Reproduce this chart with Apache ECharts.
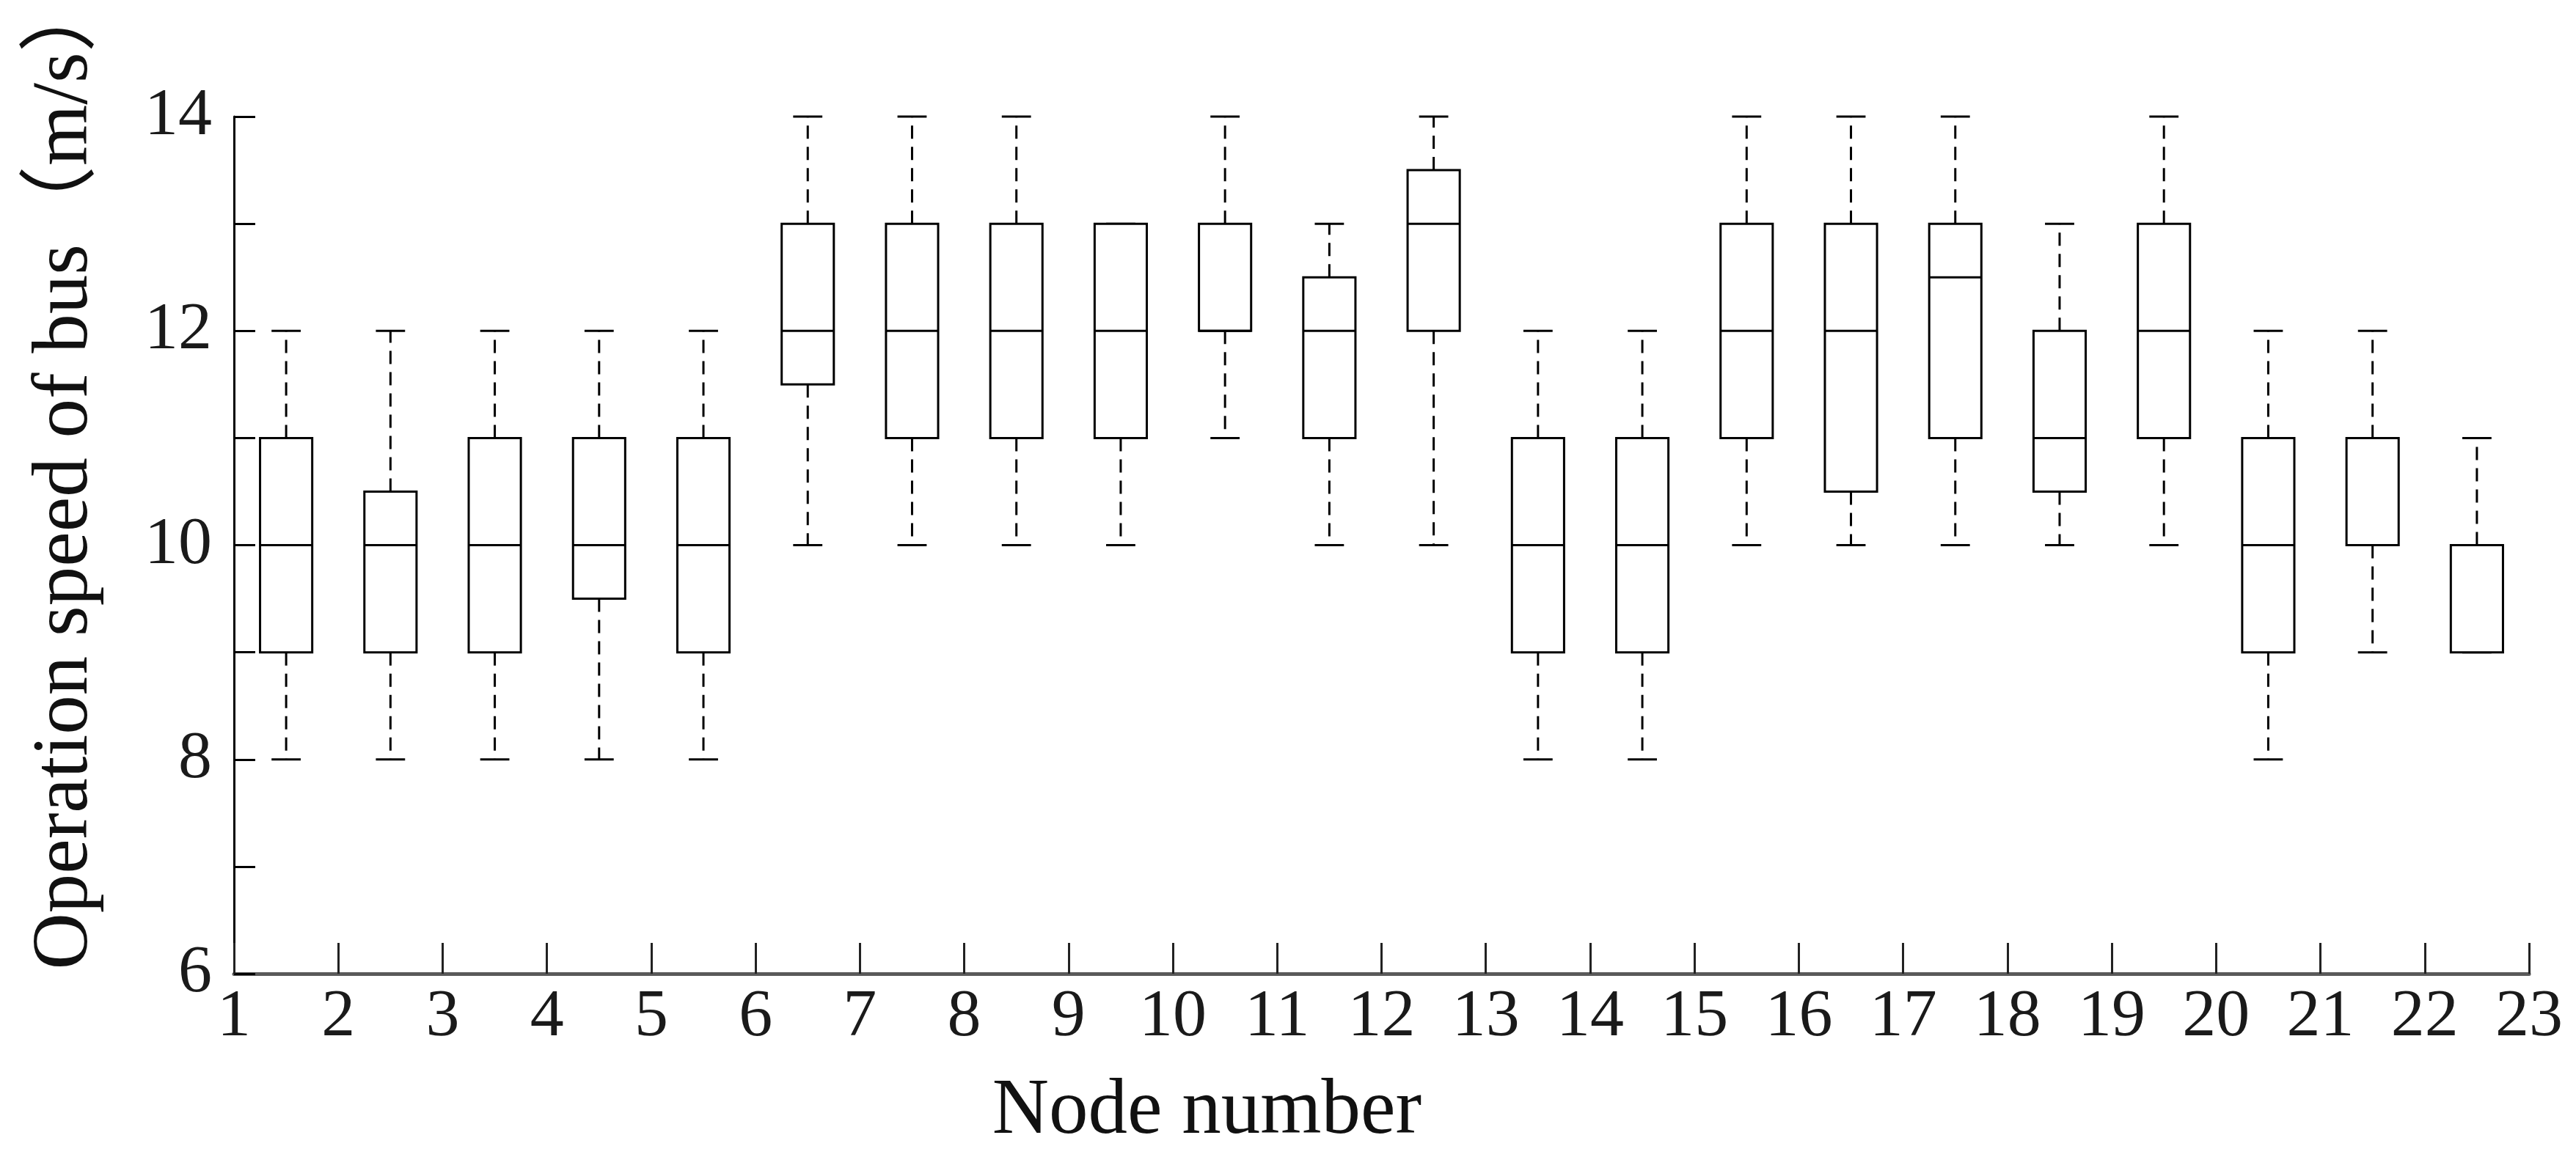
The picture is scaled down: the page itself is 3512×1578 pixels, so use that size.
<!DOCTYPE html>
<html>
<head>
<meta charset="utf-8">
<script src="https://cdn.jsdelivr.net/npm/echarts@6/dist/echarts.min.js"></script>
<style>
  html, body { margin: 0; padding: 0; background: #fff; }
  #chart { width: 3512px; height: 1578px; }
</style>
</head>
<body>
<div id="chart"></div>
<script>
// Node categories (boxes sit between integer ticks 1..23)
const nodes = ['1','2','3','4','5','6','7','8','9','10','11','12','13','14','15','16','17','18','19','20','21','22'];
// Box statistics (m/s)
const lowerWhisker = [8, 8, 8, 8, 8, 10, 10, 10, 10, 11, 10, 10, 8, 8, 10, 10, 10, 10, 10, 8, 9, 9];
const q1Values     = [9, 9, 9, 9.5, 9, 11.5, 11, 11, 11, 12, 11, 12, 9, 9, 11, 10.5, 11, 10.5, 11, 9, 10, 9];
const medianValues = [10, 10, 10, 10, 10, 12, 12, 12, 12, 12, 12, 13, 10, 10, 12, 12, 12.5, 11, 12, 10, 10, 10];
const q3Values     = [11, 10.5, 11, 11, 11, 13, 13, 13, 13, 13, 12.5, 13.5, 11, 11, 13, 13, 13, 12, 13, 11, 11, 10];
const upperWhisker = [12, 12, 12, 12, 12, 14, 14, 14, 13, 14, 13, 14, 12, 12, 14, 14, 14, 13, 14, 12, 12, 11];
// Axis settings
const xTickMin = 1, xTickMax = 23;
const yTickMin = 6, yTickMax = 14;
const xAxisTitle = 'Node number';
const yAxisTitle = 'Operation speed of bus（m/s）';

const FONT = "'Liberation Serif', 'Times New Roman', 'Noto Sans CJK SC', serif";

const boxData = nodes.map((n, i) => [i, lowerWhisker[i], q1Values[i], medianValues[i], q3Values[i], upperWhisker[i]]);

const chart = echarts.init(document.getElementById('chart'), null, { renderer: 'canvas' });

chart.setOption({
  backgroundColor: '#ffffff',
  animation: false,
  grid: { left: 319, right: 64, top: 159, bottom: 250, containLabel: false, outerBoundsMode: 'none' },
  xAxis: [
    {
      type: 'value',
      min: xTickMin,
      max: xTickMax,
      interval: 1,
      position: 'bottom',
      name: xAxisTitle,
      nameLocation: 'middle',
      nameGap: 135,
      nameTextStyle: { fontFamily: FONT, fontSize: 107, color: '#111', padding: [0, 476, 0, 0] },
      axisLine: { show: true, lineStyle: { color: '#5a5a5a', width: 5 } },
      axisTick: { show: true, inside: true, length: 42, lineStyle: { color: '#222', width: 3 } },
      axisLabel: { show: true, margin: 14, fontFamily: FONT, fontSize: 92, color: '#1a1a1a' },
      splitLine: { show: false }
    },
    {
      type: 'category',
      data: nodes,
      boundaryGap: true,
      show: false,
      position: 'bottom'
    }
  ],
  yAxis: {
    type: 'value',
    min: yTickMin,
    max: yTickMax,
    interval: 2,
    name: yAxisTitle,
    nameLocation: 'middle',
    nameGap: 176,
    nameTextStyle: { fontFamily: FONT, fontSize: 107, color: '#111', padding: [0, 0, 0, 200] },
    axisLine: { show: true, lineStyle: { color: '#000', width: 3 } },
    axisTick: { show: true, inside: true, length: 29, lineStyle: { color: '#000', width: 3 } },
    minorTick: { show: true, splitNumber: 2, length: 29, lineStyle: { color: '#000', width: 3 } },
    axisLabel: { show: true, margin: 30, fontFamily: FONT, fontSize: 92, color: '#1a1a1a' },
    splitLine: { show: false },
    minorSplitLine: { show: false }
  },
  series: [
    {
      type: 'custom',
      xAxisIndex: 1,
      yAxisIndex: 0,
      encode: { x: 0, y: [1, 2, 3, 4, 5] },
      data: boxData,
      renderItem: function (params, api) {
        const idx = api.value(0);
        const lo = api.coord([idx, api.value(1)]);
        const q1 = api.coord([idx, api.value(2)]);
        const med = api.coord([idx, api.value(3)]);
        const q3 = api.coord([idx, api.value(4)]);
        const hi = api.coord([idx, api.value(5)]);
        const band = api.size([1, 0])[0];
        const bw = band * 0.5 / 2;
        const cw = band * 0.28 / 2;
        const x = lo[0];
        const solid = { stroke: '#000', lineWidth: 3, fill: null };
        const dashed = { stroke: '#000', lineWidth: 3, lineDash: [18, 11], fill: null };
        return {
          type: 'group',
          children: [
            { type: 'line', shape: { x1: x, y1: q3[1], x2: x, y2: hi[1] }, style: dashed },
            { type: 'line', shape: { x1: x, y1: q1[1], x2: x, y2: lo[1] }, style: dashed },
            { type: 'line', shape: { x1: x - cw, y1: hi[1], x2: x + cw, y2: hi[1] }, style: solid },
            { type: 'line', shape: { x1: x - cw, y1: lo[1], x2: x + cw, y2: lo[1] }, style: solid },
            { type: 'rect', shape: { x: x - bw, y: q3[1], width: 2 * bw, height: q1[1] - q3[1] },
              style: { fill: '#fff', stroke: '#000', lineWidth: 3 } },
            { type: 'line', shape: { x1: x - bw, y1: med[1], x2: x + bw, y2: med[1] }, style: solid }
          ]
        };
      }
    }
  ]
});
</script>
</body>
</html>
